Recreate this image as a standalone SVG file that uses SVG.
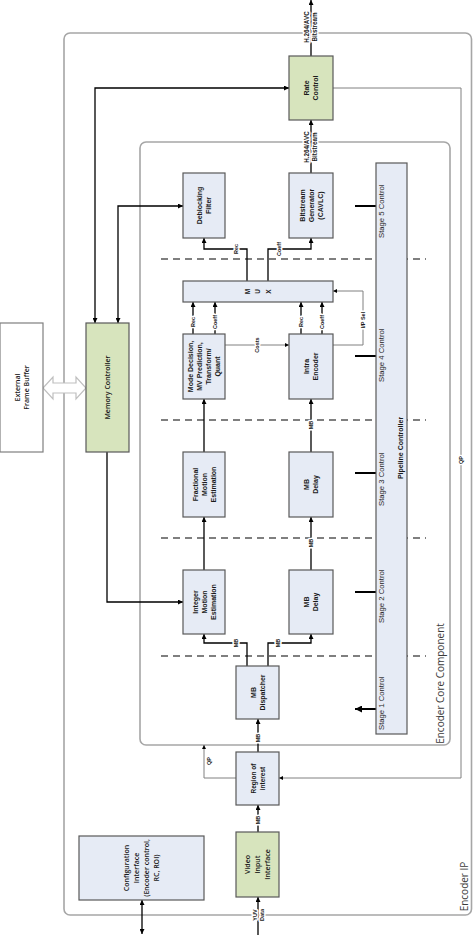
<svg xmlns="http://www.w3.org/2000/svg" width="474" height="935" viewBox="0 0 474 935">
<style>
.bg{fill:#fff}
.frame{fill:none;stroke:#a6a6a6;stroke-width:1.6}
.blue{fill:#e6ebf5;stroke:#595959;stroke-width:1.2}
.green{fill:#d7e4bd;stroke:#595959;stroke-width:1.2}
.white{fill:#fff;stroke:#7f7f7f;stroke-width:1.2}
.dash{fill:none;stroke:#7f7f7f;stroke-width:1.8;stroke-dasharray:7,5}
.c{fill:none;stroke:#000;stroke-width:1.3}
.g{fill:none;stroke:#808080;stroke-width:1}
.s{fill:none;stroke:#000;stroke-width:2.2}
text{font-family:"Liberation Sans",Arial,sans-serif;fill:#1a1a1a;text-anchor:middle}
.n{font-size:7px;font-weight:bold}
.o{font-family:"Open Sans","Liberation Sans",sans-serif;font-size:7px;font-weight:600}
.l{font-size:5.5px;font-weight:bold;paint-order:stroke;stroke:#fff;stroke-width:3px;stroke-linejoin:round}
.h{font-size:6.3px}
.st{font-size:7.7px;text-anchor:start;fill:#262626}
.big{font-family:"Open Sans","Liberation Sans",sans-serif;font-size:10px;fill:#3a3a3a}
</style>
<defs>
<marker id="ah" viewBox="0 0 10 10" refX="10" refY="5" markerUnits="userSpaceOnUse" markerWidth="6" markerHeight="5" orient="auto-start-reverse"><path d="M0,0L10,5L0,10z" fill="#000"/></marker>
<marker id="ahg" viewBox="0 0 10 10" refX="10" refY="5" markerUnits="userSpaceOnUse" markerWidth="5" markerHeight="4" orient="auto-start-reverse"><path d="M0,0L10,5L0,10z" fill="#000"/></marker>
<marker id="ahs" viewBox="0 0 10 10" refX="10" refY="5" markerUnits="userSpaceOnUse" markerWidth="9" markerHeight="7" orient="auto-start-reverse"><path d="M0,0L10,5L0,10z" fill="#000"/></marker>
</defs>
<rect class="bg" width="474" height="935"/>
<g id="frames">
<rect id="encoder-ip" class="frame" x="64" y="33" width="407.5" height="882" rx="6"/>
<rect id="encoder-core" class="frame" x="140" y="142" width="310" height="603" rx="6"/>
<text class="big" transform="translate(444,683.5) rotate(-90)">Encoder Core Component</text>
<text class="big" transform="translate(468,886.5) rotate(-90)">Encoder IP</text>
</g>
<g id="stage-dividers">
<path class="dash" d="M161,259H426M161,420H426M161,538H426M161,656H426"/>
</g>
<g id="connectors">
<path class="c" d="M311,56V0" marker-end="url(#ah)"/>
<path class="c" d="M311,173V120" marker-end="url(#ah)"/>
<path class="c" d="M289,88H95V323" marker-start="url(#ah)" marker-end="url(#ah)"/>
<path class="c" d="M183,206H118V323" marker-start="url(#ah)" marker-end="url(#ah)"/>
<path class="c" d="M107,452V602H183" marker-end="url(#ah)"/>
<path class="g" d="M333,88H461V778H279" marker-end="url(#ahg)"/>
<path class="g" d="M236,778H204V745" marker-end="url(#ahg)"/>
<path class="c" d="M247,281V249H204V238" marker-end="url(#ah)"/>
<path class="c" d="M268,281V249H311V238" marker-end="url(#ah)"/>
<path class="c" d="M193,334V302" marker-end="url(#ah)"/>
<path class="c" d="M215,334V302" marker-end="url(#ah)"/>
<path class="c" d="M301,334V302" marker-end="url(#ah)"/>
<path class="c" d="M322,334V302" marker-end="url(#ah)"/>
<path class="g" d="M225,345H289" marker-end="url(#ahg)"/>
<path class="g" d="M333,345H363V291H333" marker-end="url(#ahg)"/>
<path class="c" d="M204,452V399" marker-end="url(#ah)"/>
<path class="c" d="M204,570V517" marker-end="url(#ah)"/>
<path class="c" d="M311,452V399" marker-end="url(#ah)"/>
<path class="c" d="M311,570V517" marker-end="url(#ah)"/>
<path class="c" d="M247,666V643H204V634" marker-end="url(#ah)"/>
<path class="c" d="M268,666V643H311V634" marker-end="url(#ah)"/>
<path class="c" d="M258,752V719" marker-end="url(#ah)"/>
<path class="c" d="M258,832V805" marker-end="url(#ah)"/>
<path class="c" d="M258,935V897" marker-end="url(#ah)"/>
<path class="c" d="M142,900V934" marker-start="url(#ah)" marker-end="url(#ah)"/>
<path class="s" d="M376,206H355M376,356H355M376,473H355M376,592H355M376,709H355" marker-end="url(#ahs)"/>
<path d="M43,388L53,377V383H76V377L86,388L76,399V393H53V399Z" fill="#fff" stroke="#bfbfbf" stroke-width="1.2"/>
<text class="l h" transform="translate(311,27) rotate(-90)"><tspan x="0" y="-1.8">H.264/AVC</tspan><tspan x="0" y="6">Bitstream</tspan></text>
<text class="l h" transform="translate(311,147) rotate(-90)"><tspan x="0" y="-1.8">H.264/AVC</tspan><tspan x="0" y="6">Bitstream</tspan></text>
<text class="l" transform="translate(236,249) rotate(-90)" dy="2">Rec</text>
<text class="l" transform="translate(279,249) rotate(-90)" dy="2">Coeff</text>
<text class="l" transform="translate(193,322) rotate(-90)" dy="2">Rec</text>
<text class="l" transform="translate(215,322) rotate(-90)" dy="2">Coeff</text>
<text class="l" transform="translate(301,322) rotate(-90)" dy="2">Rec</text>
<text class="l" transform="translate(322,322) rotate(-90)" dy="2">Coeff</text>
<text class="l" transform="translate(257,345) rotate(-90)" dy="2">Costs</text>
<text class="l" transform="translate(363,320) rotate(-90)" dy="2">I/P Sel</text>
<text class="l" transform="translate(311,425) rotate(-90)" dy="2">MB</text>
<text class="l" transform="translate(311,543) rotate(-90)" dy="2">MB</text>
<text class="l" transform="translate(236,643) rotate(-90)" dy="2">MB</text>
<text class="l" transform="translate(278,643) rotate(-90)" dy="2">MB</text>
<text class="l" transform="translate(258,738) rotate(-90)" dy="2">MB</text>
<text class="l" transform="translate(258,820) rotate(-90)" dy="2">MB</text>
<text class="l" transform="translate(209,761) rotate(-90)" dy="2">QP</text>
<text class="l" transform="translate(461,460) rotate(-90)" dy="2">QP</text>
<text class="l" transform="translate(258,915) rotate(-90)"><tspan x="0" y="-1.5">YUV</tspan><tspan x="0" y="5.5">Data</tspan></text>
</g>
<g id="external-frame-buffer">
<rect class="white" x="0" y="323" width="43" height="129"/>
<text class="o" transform="translate(21.5,387.5) rotate(-90)"><tspan x="0" y="-1.5">External</tspan><tspan x="0" y="7.5">Frame Buffer</tspan></text>
</g>
<g id="memory-controller">
<rect class="green" x="86" y="323" width="43" height="129"/>
<text class="o" transform="translate(107.5,387.5) rotate(-90)" dy="2.5">Memory Controller</text>
</g>
<g id="rate-control">
<rect class="green" x="289" y="56" width="44" height="64"/>
<text class="n" transform="translate(311,88) rotate(-90)"><tspan x="0" y="-2">Rate</tspan><tspan x="0" y="7">Control</tspan></text>
</g>
<g id="deblocking-filter">
<rect class="blue" x="183" y="173" width="42" height="65"/>
<text class="n" transform="translate(204,205.5) rotate(-90)"><tspan x="0" y="-2">Deblocking</tspan><tspan x="0" y="7">Filter</tspan></text>
</g>
<g id="bitstream-generator">
<rect class="blue" x="289" y="173" width="44" height="65"/>
<text class="n" transform="translate(311,205.5) rotate(-90)"><tspan x="0" y="-6.5">Bitstream</tspan><tspan x="0" y="2.5">Generator</tspan><tspan x="0" y="11.5">(CAVLC)</tspan></text>
</g>
<g id="mux">
<rect class="blue" x="183" y="281" width="150" height="21"/>
<text class="n" transform="translate(258,291.5) rotate(-90)" style="font-size:6.5px"><tspan x="0" y="-8">M</tspan><tspan x="0" y="2.3">U</tspan><tspan x="0" y="12.5">X</tspan></text>
</g>
<g id="mode-decision">
<rect class="blue" x="183" y="334" width="42" height="65"/>
<text class="n" transform="translate(204,366.5) rotate(-90)"><tspan x="0" y="-11">Mode Decision,</tspan><tspan x="0" y="-2">MV Prediction,</tspan><tspan x="0" y="7">Transform/</tspan><tspan x="0" y="16">Quant</tspan></text>
</g>
<g id="intra-encoder">
<rect class="blue" x="289" y="334" width="44" height="65"/>
<text class="n" transform="translate(311,366.5) rotate(-90)"><tspan x="0" y="-2">Intra</tspan><tspan x="0" y="7">Encoder</tspan></text>
</g>
<g id="fractional-me">
<rect class="blue" x="183" y="452" width="42" height="65"/>
<text class="n" transform="translate(204,484.5) rotate(-90)"><tspan x="0" y="-6.5">Fractional</tspan><tspan x="0" y="2.5">Motion</tspan><tspan x="0" y="11.5">Estimation</tspan></text>
</g>
<g id="mb-delay-3">
<rect class="blue" x="289" y="452" width="44" height="65"/>
<text class="n" transform="translate(311,484.5) rotate(-90)"><tspan x="0" y="-2">MB</tspan><tspan x="0" y="7">Delay</tspan></text>
</g>
<g id="integer-me">
<rect class="blue" x="183" y="570" width="42" height="64"/>
<text class="n" transform="translate(204,602) rotate(-90)"><tspan x="0" y="-6.5">Integer</tspan><tspan x="0" y="2.5">Motion</tspan><tspan x="0" y="11.5">Estimation</tspan></text>
</g>
<g id="mb-delay-2">
<rect class="blue" x="289" y="570" width="44" height="64"/>
<text class="n" transform="translate(311,602) rotate(-90)"><tspan x="0" y="-2">MB</tspan><tspan x="0" y="7">Delay</tspan></text>
</g>
<g id="mb-dispatcher">
<rect class="blue" x="236" y="666" width="43" height="53"/>
<text class="n" transform="translate(257.5,692.5) rotate(-90)"><tspan x="0" y="-2">MB</tspan><tspan x="0" y="7">Dispatcher</tspan></text>
</g>
<g id="region-of-interest">
<rect class="blue" x="236" y="752" width="43" height="53"/>
<text class="n" transform="translate(257.5,778.5) rotate(-90)" style="font-size:6.5px"><tspan x="0" y="-2">Region of</tspan><tspan x="0" y="7">interest</tspan></text>
</g>
<g id="video-input-interface">
<rect class="green" x="236" y="832" width="43" height="65"/>
<text class="o" transform="translate(257.5,864.5) rotate(-90)"><tspan x="0" y="-7.5">Video</tspan><tspan x="0" y="2.5">Input</tspan><tspan x="0" y="12.5">Interface</tspan></text>
</g>
<g id="configuration-interface">
<rect class="blue" x="79" y="836" width="125" height="64"/>
<text class="o" transform="translate(141.5,868) rotate(-90)"><tspan x="0" y="-12.5">Configuration</tspan><tspan x="0" y="-2.5">Interface</tspan><tspan x="0" y="7.5">(Encoder control,</tspan><tspan x="0" y="17.5">RC, ROI)</tspan></text>
</g>
<g id="pipeline-controller">
<rect class="blue" x="376" y="163" width="31" height="571"/>
<text class="st" transform="translate(383.5,238) rotate(-90)">Stage 5 Control</text>
<text class="st" transform="translate(383.5,382) rotate(-90)">Stage 4 Control</text>
<text class="st" transform="translate(383.5,506) rotate(-90)">Stage 3 Control</text>
<text class="st" transform="translate(383.5,623) rotate(-90)">Stage 2 Control</text>
<text class="st" transform="translate(383.5,730) rotate(-90)">Stage 1 Control</text>
<text class="n" transform="translate(400,448) rotate(-90)" dy="2.5">Pipeline Controller</text>
</g>
</svg>
